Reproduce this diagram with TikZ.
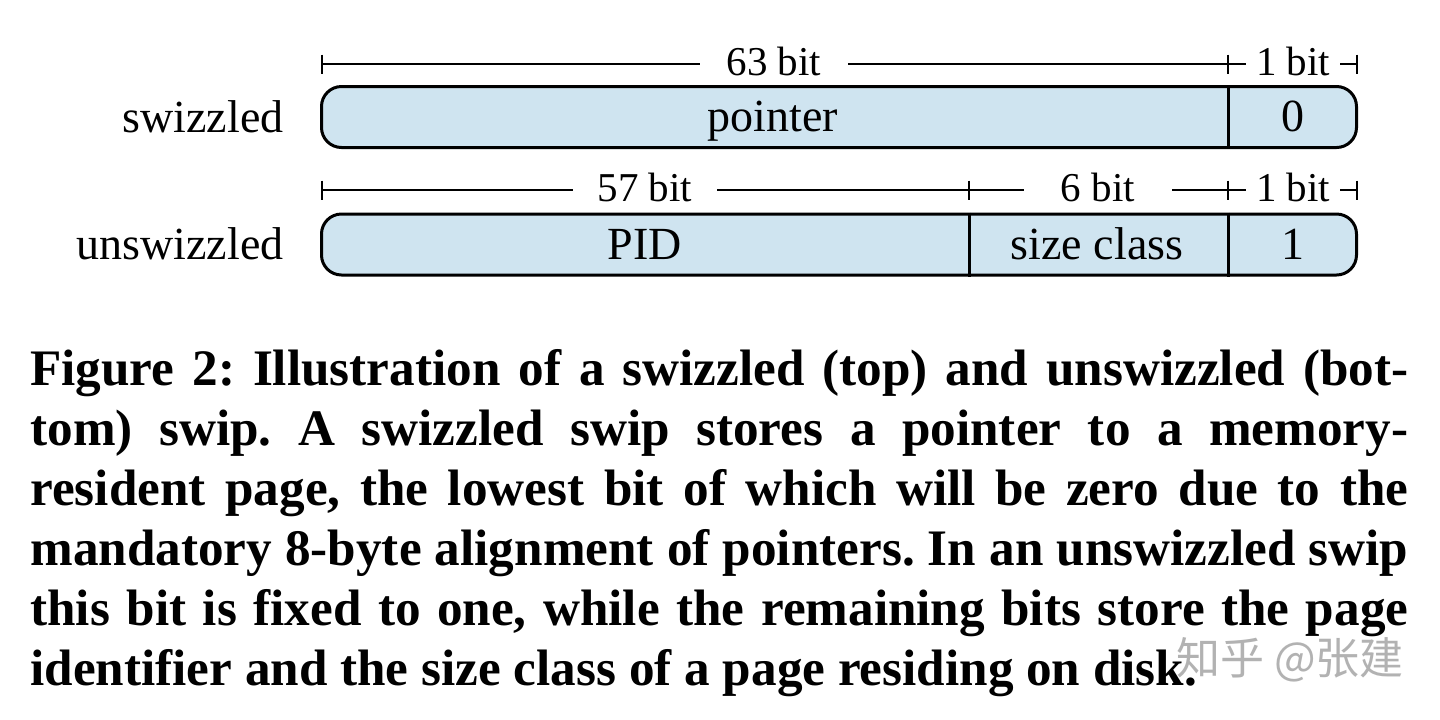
\documentclass[tikz,border=0pt]{standalone}
\usepackage{fontspec}
\setmainfont{Liberation Serif}
\newfontfamily\cjkfont{Noto Sans CJK SC}
\definecolor{boxblue}{RGB}{207,228,240}
\definecolor{wmgray}{RGB}{165,165,165}
\frenchspacing
\begin{document}
\begin{tikzpicture}[x=0.5pt,y=-0.5pt,
  field/.style={draw=black, line width=1.5pt, fill=boxblue, rounded corners=10pt,
    minimum width=517.5pt, minimum height=30.5pt, inner sep=0pt},
  divider/.style={draw=black, line width=1.5pt},
  dimline/.style={draw=black, line width=1pt},
  dimlabel/.style={fill=white, inner ysep=0pt, font=\fontsize{20.5}{24}\selectfont, anchor=base},
  boxtext/.style={inner sep=0pt, font=\fontsize{23}{27}\selectfont, anchor=base},
  sidetext/.style={inner sep=0pt, font=\fontsize{23}{27}\selectfont, anchor=base east},
  captext/.style={inner sep=0pt, font=\fontsize{25.6}{30}\selectfont\bfseries, anchor=base west},
  tick/.style={draw=black, line width=1pt}
]
\useasboundingbox (0,0) rectangle (1440,719);
\fill[white] (0,0) rectangle (1440,719);

% ---------- swizzled ----------
\coordinate (a0) at (322,64);
\coordinate (a1) at (1228,64);
\coordinate (a2) at (1357,64);
\draw[dimline] (a0) -- (a2);
\foreach \c in {a0,a1,a2}{
  \draw[tick] ([yshift=4.75pt]\c) -- ([yshift=-4.75pt]\c);
}
\node[dimlabel, inner xsep=13.25pt] (l63) at (774,75) {63 bit};
\node[dimlabel, inner xsep=5pt] (l1a) at (1293,75) {1 bit};

\node[field] (box1) at (839,117) {};
\coordinate (d1) at (1228,0);
\draw[divider] (box1.north -| d1) -- (box1.south -| d1);
\node[boxtext] (ptr) at (773,131) {pointer};
\node[boxtext] (zero) at (1293,131) {0};
\node[sidetext] (sw) at (284,132) {swizzled};

% ---------- unswizzled ----------
\coordinate (b0) at (322,190);
\coordinate (b1) at (969,190);
\coordinate (b2) at (1228,190);
\coordinate (b3) at (1357,190);
\draw[dimline] (b0) -- (b3);
\foreach \c in {b0,b1,b2,b3}{
  \draw[tick] ([yshift=4.75pt]\c) -- ([yshift=-4.75pt]\c);
}
\node[dimlabel, inner xsep=12.5pt] (l57) at (645,201) {57 bit};
\node[dimlabel, inner xsep=18.5pt] (l6) at (1098,201) {6 bit};
\node[dimlabel, inner xsep=5pt] (l1b) at (1293,201) {1 bit};

\node[field] (box2) at (839,244.5) {};
\coordinate (d2) at (969,0);
\coordinate (d3) at (1228,0);
\draw[divider] (box2.north -| d2) -- (box2.south -| d2);
\draw[divider] (box2.north -| d3) -- (box2.south -| d3);
\node[boxtext] (pid) at (645,259) {PID};
\node[boxtext] (sc) at (1097,259) {size class};
\node[boxtext] (one) at (1293,259) {1};
\node[sidetext] (usw) at (284,259) {unswizzled};

% ---------- caption ----------
\node[captext] (c1) at (30,385) {\makebox[689pt][s]{Figure 2: Illustration of a swizzled (top) and unswizzled (bot-}};
\node[captext] (c2) at (30,445) {\makebox[689pt][s]{tom) swip. A swizzled swip stores a pointer to a memory-}};
\node[captext] (c3) at (30,505) {\makebox[689pt][s]{resident page, the lowest bit of which will be zero due to the}};
\node[captext] (c4) at (30,565) {\makebox[689pt][s]{mandatory 8-byte alignment of pointers. In an unswizzled swip}};
\node[captext] (c5) at (30,625) {\makebox[689pt][s]{this bit is fixed to one, while the remaining bits store the page}};
\node[captext] (c6) at (30,685) {identifier and the size class of a page residing on disk.};

% ---------- watermark ----------
\node[inner sep=0pt, anchor=west, text=wmgray, opacity=0.85,
  font=\fontsize{22}{26}\cjkfont] (wm) at (1176,660) {知乎 @张建};
\end{tikzpicture}
\end{document}
